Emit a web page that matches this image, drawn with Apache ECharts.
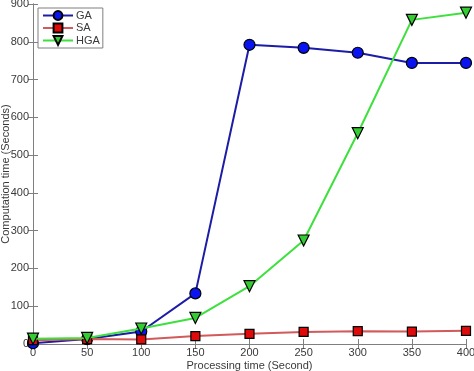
<!DOCTYPE html>
<html><head><meta charset="utf-8">
<script src="https://cdn.jsdelivr.net/npm/echarts@6/dist/echarts.min.js"></script>
<style>html,body{margin:0;padding:0;background:#fff}#c{width:474px;height:371px}</style>
</head><body><div id="c"></div>
<script>
const xValues = [0, 50, 100, 150, 200, 250, 300, 350, 400];
const gaValues = [2, 13, 33, 134, 792, 784, 771, 744, 744];
const saValues = [10, 13, 12, 21, 27, 32, 34, 33, 35];
const hgaValues = [14, 16, 41, 69, 153, 274, 558, 858, 877];
const xTitle = 'Processing time (Second)';
const yTitle = 'Computation time (Seconds)';

const pair = (vals) => xValues.map((x, i) => [x, vals[i]]);
const font = 'Liberation Sans, Arial, sans-serif';
const txtCol = '#3a3a3a';
const axisCol = '#7f7f7f';
const chart = echarts.init(document.getElementById('c'));
const common = {
  axisLine: {show: true, lineStyle: {color: axisCol, width: 1}},
  axisTick: {show: true, inside: true, length: 5, lineStyle: {color: axisCol}},
  splitLine: {show: false}
};
chart.setOption({
  animation: false,
  backgroundColor: '#fff',
  grid: {left: 33, right: 8, top: 4, bottom: 27, containLabel: false, outerBoundsMode: 'none'},
  legend: {
    left: 38, top: 8, orient: 'vertical',
    backgroundColor: '#fff', borderColor: axisCol, borderWidth: 1,
    padding: [2, 3, 2, 4], itemGap: 1.5, itemWidth: 30, itemHeight: 11,
    textStyle: {fontFamily: font, fontSize: 11, lineHeight: 11, color: txtCol, padding: [0, 0, 0, -2]},
    data: ['GA', 'SA', 'HGA']
  },
  xAxis: [
    Object.assign({type: 'value', min: 0, max: 400, interval: 50, position: 'bottom',
      name: xTitle, nameLocation: 'middle', nameGap: 16, nameMoveOverlap: false,
      nameTextStyle: {fontFamily: font, fontSize: 11, color: txtCol, verticalAlign: 'top'},
      axisLabel: {fontFamily: font, fontSize: 11, color: txtCol, margin: 3}}, common),
    Object.assign({type: 'value', min: 0, max: 400, interval: 50, position: 'top',
      axisLabel: {show: false}}, common)
  ],
  yAxis: [
    Object.assign({type: 'value', min: 0, max: 900, interval: 100, position: 'left',
      name: yTitle, nameLocation: 'middle', nameGap: 22, nameMoveOverlap: false,
      nameTextStyle: {fontFamily: font, fontSize: 11, color: txtCol},
      axisLabel: {fontFamily: font, fontSize: 11, color: txtCol, margin: 4}}, common),
    Object.assign({type: 'value', min: 0, max: 900, interval: 100, position: 'right',
      axisLabel: {show: false}}, common)
  ],
  series: [
    {name: 'GA', type: 'line', data: pair(gaValues), symbol: 'circle', symbolSize: 11,
      lineStyle: {color: '#1c1ca6', width: 2},
      itemStyle: {color: '#0a14f0', borderColor: '#000', borderWidth: 1.2}, z: 3},
    {name: 'SA', type: 'line', data: pair(saValues), symbol: 'rect', symbolSize: 9,
      lineStyle: {color: '#d25a5a', width: 2},
      itemStyle: {color: '#e00a0a', borderColor: '#000', borderWidth: 1.2}, z: 4},
    {name: 'HGA', type: 'line', data: pair(hgaValues), symbol: 'triangle', symbolRotate: 180, symbolSize: 11,
      lineStyle: {color: '#3de03d', width: 2},
      itemStyle: {color: '#33cc33', borderColor: '#000', borderWidth: 1.2}, z: 5}
  ]
});
</script></body></html>
